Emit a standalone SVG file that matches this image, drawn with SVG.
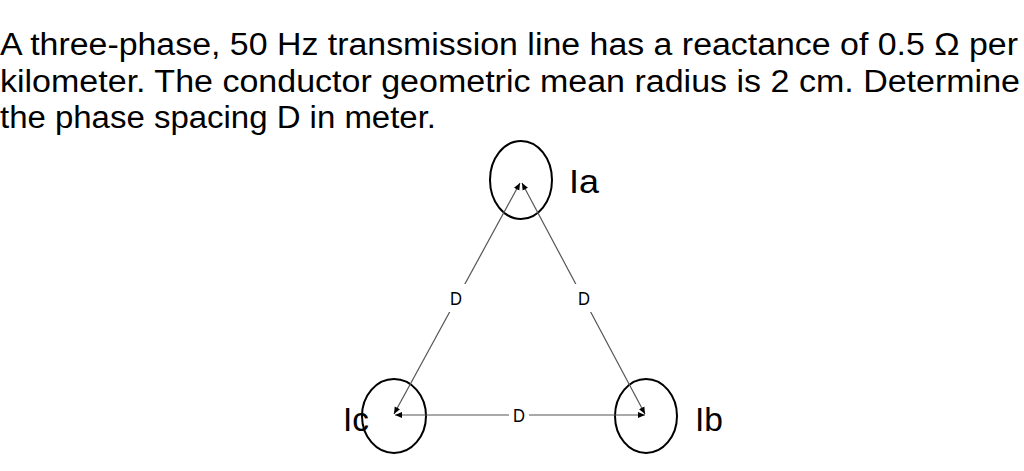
<svg xmlns="http://www.w3.org/2000/svg" width="1024" height="471" viewBox="0 0 1024 471">
<style>
.t{font-family:"Liberation Sans",Arial,sans-serif;font-size:31px;fill:#000}
.c{fill:none;stroke:#000;stroke-width:2}
.l{stroke:#555;stroke-width:1.2;fill:none;marker-end:url(#a);marker-start:url(#a)}
.d{font-family:"Liberation Sans",Arial,sans-serif;font-size:19px;fill:#000;text-anchor:middle}
.n{font-family:"Liberation Sans",Arial,sans-serif;font-size:34px;fill:#000}
</style>
<defs><marker id="a" markerWidth="8" markerHeight="8" refX="7" refY="4" orient="auto-start-reverse" markerUnits="userSpaceOnUse"><path d="M0,1 L7,4 L0,7 Z" fill="#000"/></marker></defs>
<rect width="1024" height="471" fill="#fff"/>
<text class="t" x="0" y="55" textLength="1018" lengthAdjust="spacingAndGlyphs">A three-phase, 50 Hz transmission line has a reactance of 0.5 Ω per</text>
<text class="t" x="0" y="92" textLength="1020" lengthAdjust="spacingAndGlyphs">kilometer. The conductor geometric mean radius is 2 cm. Determine</text>
<text class="t" x="0" y="128" textLength="436" lengthAdjust="spacingAndGlyphs">the phase spacing D in meter.</text>
<g id="ia"><ellipse class="c" cx="521" cy="180" rx="31" ry="39"/><text class="n" x="569" y="193" textLength="30" lengthAdjust="spacingAndGlyphs">Ia</text></g>
<g id="ib"><ellipse class="c" cx="646" cy="416" rx="31" ry="37"/><text class="n" x="695" y="431" textLength="28" lengthAdjust="spacingAndGlyphs">Ib</text></g>
<g id="ic"><ellipse class="c" cx="394" cy="416" rx="32" ry="37"/><text class="n" x="343" y="431" textLength="26" lengthAdjust="spacingAndGlyphs">Ic</text></g>
<g id="connectors">
<line class="l" x1="520" y1="183" x2="394" y2="414"/>
<line class="l" x1="522" y1="183" x2="645" y2="414"/>
<line class="l" x1="395" y1="415" x2="645" y2="415"/>
<rect x="445" y="284" width="22" height="28" fill="#fff"/>
<rect x="573" y="284" width="22" height="28" fill="#fff"/>
<rect x="509" y="404" width="20" height="22" fill="#fff"/>
<text class="d" x="456" y="305" textLength="12" lengthAdjust="spacingAndGlyphs">D</text>
<text class="d" x="584" y="305" textLength="12" lengthAdjust="spacingAndGlyphs">D</text>
<text class="d" x="519" y="422" textLength="12" lengthAdjust="spacingAndGlyphs">D</text>
</g>
</svg>
